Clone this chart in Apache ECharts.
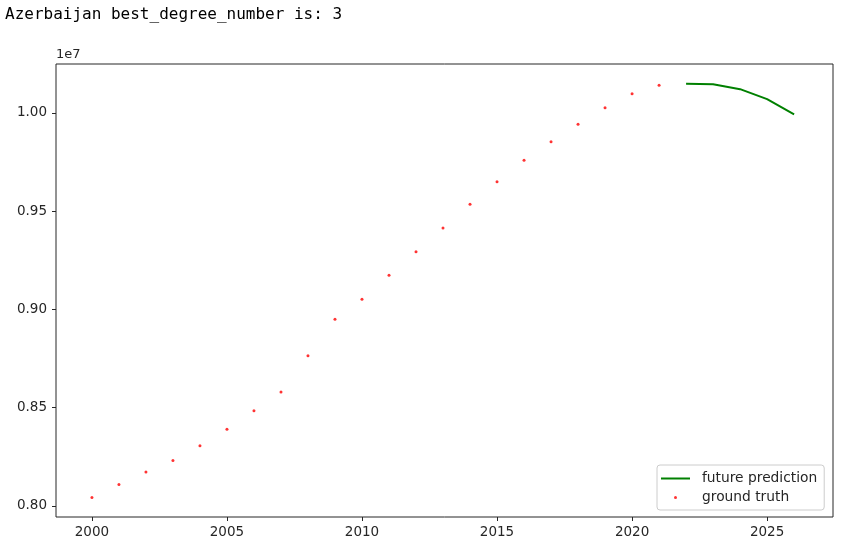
<!DOCTYPE html>
<html><head><meta charset="utf-8">
<script src="https://cdn.jsdelivr.net/npm/echarts@6/dist/echarts.min.js"></script>
<style>html,body{margin:0;padding:0;background:#fff}#c{width:847px;height:551px}</style>
</head><body><div id="c"></div>
<script>
const titleText = 'Azerbaijan best_degree_number is: 3';
const groundTruthYears = [2000,2001,2002,2003,2004,2005,2006,2007,2008,2009,2010,2011,2012,2013,2014,2015,2016,2017,2018,2019,2020,2021];
const groundTruthValues = [8043000,8110000,8173000,8231000,8307000,8390000,8485000,8580000,8765000,8950000,9052000,9174000,9294000,9415000,9535000,9650000,9759000,9854000,9942000,10027000,10097000,10141000];
const predictionYears = [2022,2023,2024,2025,2026];
const predictionValues = [10148000,10146000,10121000,10070000,9993000];
const xTickValues = [2000,2005,2010,2015,2020,2025];
const yTickValues = [8000000,8500000,9000000,9500000,10000000];
const yOffsetLabel = '1e7';
const seriesNames = ['future prediction','ground truth'];

const fontFam = '"DejaVu Sans", sans-serif';
const txtColor = '#262626';
const chart = echarts.init(document.getElementById('c'), null, {renderer:'canvas'});
chart.setOption({
  animation:false,
  backgroundColor:'#ffffff',
  title:{
    text:titleText, left:5, top:7, padding:0,
    textStyle:{fontFamily:'"DejaVu Sans Mono", monospace', fontSize:16, fontWeight:'normal', color:'#000000'}
  },
  grid:{left:56, right:14, top:64, bottom:34, show:true, borderColor:'#262626', borderWidth:1, backgroundColor:'transparent'},
  legend:{
    orient:'vertical', left:657, top:465,
    padding:[6,7,5,4], itemWidth:29, itemHeight:3, itemGap:4,
    backgroundColor:'rgba(255,255,255,0.8)', borderColor:'#cccccc', borderWidth:1, borderRadius:3,
    textStyle:{fontSize:13.8, color:txtColor, fontFamily:fontFam, lineHeight:15, padding:[0,0,0,7]},
    data:[{name:seriesNames[0], icon:'path://M0,0H29V2H0Z'},{name:seriesNames[1], icon:'circle'}]
  },
  xAxis:{
    type:'value', min:1998.67, max:2027.44,
    axisLine:{show:false}, splitLine:{show:false},
    axisTick:{show:true, customValues:xTickValues, length:4, lineStyle:{color:'#262626', width:1}},
    axisLabel:{customValues:xTickValues, margin:8, fontSize:13.5, color:txtColor, fontFamily:fontFam,
      formatter:v=>String(Math.round(v))}
  },
  yAxis:{
    type:'value', min:7944000, max:10249000,
    name:yOffsetLabel, nameLocation:'end', nameGap:3,
    nameTextStyle:{fontSize:13, color:txtColor, fontFamily:fontFam, align:'left', verticalAlign:'bottom'},
    axisLine:{show:false}, splitLine:{show:false},
    axisTick:{show:true, customValues:yTickValues, length:4, lineStyle:{color:'#262626', width:1}},
    axisLabel:{customValues:yTickValues, margin:9, fontSize:13.5, color:txtColor, fontFamily:fontFam,
      formatter:v=>(v/1e7).toFixed(2)}
  },
  series:[
    {name:seriesNames[0], type:'line', data:predictionYears.map((y,i)=>[y,predictionValues[i]]),
     showSymbol:false, symbol:'none', color:'#008000', lineStyle:{width:2, color:'#008000'}, z:3},
    {name:seriesNames[1], type:'scatter', data:groundTruthYears.map((y,i)=>[y,groundTruthValues[i]]),
     symbol:'circle', symbolSize:3, color:'#ff0000', itemStyle:{color:'#ff0000'}, z:2}
  ]
});
</script></body></html>
